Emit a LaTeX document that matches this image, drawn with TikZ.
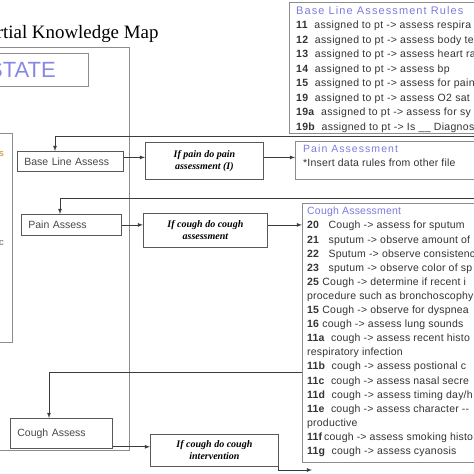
\documentclass[tikz,border=0pt]{standalone}
\usepackage{fontspec}
\setmainfont{Liberation Serif}
\newfontfamily\arialfont{Liberation Sans}
\newfontfamily\rulefont[LetterSpace=2]{Liberation Sans}
\newfontfamily\rulewide[LetterSpace=3]{Liberation Sans}
\newfontfamily\titlewide[LetterSpace=10]{Liberation Sans}
\definecolor{ruleblue}{HTML}{7B7BE0}
\definecolor{boxgray}{HTML}{8C8C8C}
\definecolor{linegray}{HTML}{3C3C3C}
\definecolor{textgray}{HTML}{333333}
\definecolor{fragorange}{HTML}{C8861E}

\begin{document}
\begin{tikzpicture}[x=1pt, y=-1pt,
    conn/.style={->, >=latex, draw=linegray, line width=0.8pt},
    assessbox/.style={draw=linegray!85, line width=0.8pt, inner xsep=7pt, inner ysep=0pt,
      align=left, font=\arialfont\fontsize{10.5}{12}\selectfont, text=textgray!90, anchor=north west},
    ifbox/.style={draw=linegray!85, line width=0.8pt, inner sep=0pt, align=center,
      font=\bfseries\itshape\fontsize{10}{12}\selectfont, anchor=north west},
    rulebox/.style={draw=boxgray, line width=1.3pt, inner sep=0pt, anchor=north west},
    ruletext/.style={font=\rulefont\fontsize{10.5}{14.1}\selectfont, text=textgray,
      align=left, inner sep=0pt, anchor=north west}]
    \useasboundingbox (0,0) rectangle (474,474);

    % title and outer frame
    \node[anchor=base east, font=\fontsize{18.9}{22}\selectfont] (title) at (162,38) {Partial Knowledge Map};
    \draw [draw=boxgray, line width=1pt] (-5,47) rectangle (129,450);
    \node[draw=boxgray, line width=1pt, inner sep=0pt, minimum width=98, minimum height=33, anchor=north west] (stateBox) at (-10,53) {};
    \node[anchor=east, inner sep=0pt, text=ruleblue!90, font=\arialfont\fontsize{22}{24}\selectfont] (stateText) at (56,70) {STATE};
    \node[draw=boxgray, line width=1pt, inner sep=0pt, minimum width=22, minimum height=209, anchor=north west] (leftBox) at (-10,133) {};
    \node[anchor=east, inner sep=0pt, text=fragorange, font=\arialfont\fontsize{9.5}{11}\selectfont] (leftTextA) at (4,154) {s};
    \node[anchor=east, inner sep=0pt, text=textgray!70, font=\arialfont\fontsize{9.5}{11}\selectfont] (leftTextB) at (4,243) {c};

    % assess steps
    \node[assessbox, text width=92, minimum height=20] (blAssess) at (17,151) {Base Line Assess};
    \node[assessbox, text width=86, minimum height=21] (pAssess) at (21,214) {Pain Assess};
    \node[assessbox, text width=88, minimum height=30] (cAssess) at (10,418) {Cough Assess};

    % decisions
    \node[ifbox, minimum width=118, minimum height=37] (ifPain) at (145,142) {If pain do pain\\assessment (I)};
    \node[ifbox, minimum width=124, minimum height=34] (ifCough) at (143,213) {If cough do cough\\assessment};
    \node[ifbox, minimum width=128, minimum height=32] (ifCoughInt) at (150,434) {If cough do cough\\intervention};

    % rule sets
    \node[rulebox, minimum width=200, minimum height=131] (blRules) at (289,2) {};
    \node[ruletext, font=\rulewide\fontsize{10.5}{14.5}\selectfont] (blList) at ([xshift=7pt,yshift=-4pt]blRules.north west) {%
      {\titlewide\fontsize{11}{14.5}\selectfont\textcolor{ruleblue}{Base Line Assessment Rules}}\\
      \textbf{11}\ \ assigned to pt -> assess respira\\
      \textbf{12}\ \ assigned to pt -> assess body te\\
      \textbf{13}\ \ assigned to pt -> assess heart ra\\
      \textbf{14}\ \ assigned to pt -> assess bp\\
      \textbf{15}\ \ assigned to pt -> assess for pain\\
      \textbf{19}\ \ assigned to pt -> assess O2 sat\\
      \textbf{19a}\ \ assigned to pt -> assess for sy\\
      \textbf{19b}\ \ assigned to pt -> Is \_\_ Diagnos};
    \node[rulebox, minimum width=190, minimum height=38] (painRules) at (295,141) {};
    \node[ruletext, font=\rulefont\fontsize{10.5}{14}\selectfont] (painList) at ([xshift=8pt,yshift=-4pt]painRules.north west) {%
      {\titlewide\textcolor{ruleblue}{Pain Assessment}}\\
      *Insert data rules from other file};
    \node[rulebox, minimum width=190, minimum height=259] (coughRules) at (302,203) {};
    \node[ruletext] (coughList) at ([xshift=5pt,yshift=-4pt]coughRules.north west) {%
      \textcolor{ruleblue}{Cough Assessment}\\
      \textbf{20}\ \ \ Cough -> assess for sputum\\
      \textbf{21}\ \ \ sputum -> observe amount of\\
      \textbf{22}\ \ \ Sputum -> observe consistenc\\
      \textbf{23}\ \ \ sputum -> observe color of sp\\
      \textbf{25} Cough -> determine if recent i\\
      procedure such as bronchoscophy\\
      \textbf{15} Cough -> observe for dyspnea\\
      \textbf{16} cough -> assess lung sounds\\
      \textbf{11a}\ \ cough -> assess recent histo\\
      respiratory infection\\
      \textbf{11b}\ \ cough -> assess postional c\\
      \textbf{11c}\ \ cough -> assess nasal secre\\
      \textbf{11d}\ \ cough -> assess timing day/h\\
      \textbf{11e}\ \ cough -> assess character -{}-\\
      productive\\
      \textbf{11f}\,cough -> assess smoking histo\\
      \textbf{11g}\ \ cough -> assess cyanosis};

    % connectors
    \coordinate (inA) at (480,136);
    \coordinate (dropA) at (55,136);
    \coordinate (inB) at (480,198);
    \coordinate (dropB) at (60,198);
    \coordinate (dropC) at (49,372);
    \coordinate (outD) at (312,470);
    \draw [conn] (inA) -- (dropA) -- (dropA |- blAssess.north);
    \draw [conn] (inB) -- (dropB) -- (dropB |- pAssess.north);
    \draw [conn] (coughRules.west |- dropC) -- (dropC) -- (dropC |- cAssess.north);
    \draw [conn] ([yshift=4pt]blAssess.east) -- ([yshift=4pt]blAssess.east -| ifPain.west);
    \draw [conn] ([yshift=4pt]blAssess.east -| ifPain.east) -- ([yshift=4pt]blAssess.east -| painRules.west);
    \draw [conn] (pAssess.east) -- (pAssess.east -| ifCough.west);
    \draw [conn] (pAssess.east -| ifCough.east) -- (pAssess.east -| coughRules.west);
    \draw [conn] ([yshift=2pt]cAssess.south east) -- ([yshift=2pt]cAssess.south east -| ifCoughInt.west);
    \draw [conn] (ifCoughInt.south east) |- (outD);
\end{tikzpicture}
\end{document}
